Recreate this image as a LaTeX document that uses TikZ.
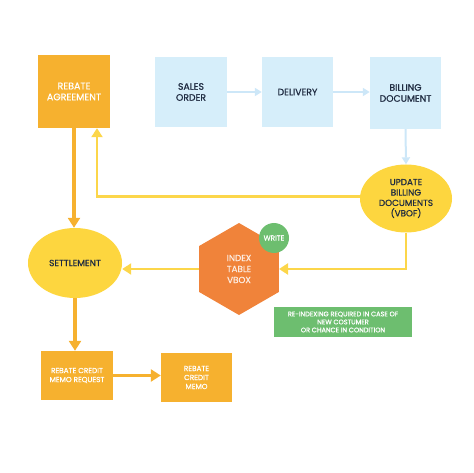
\documentclass[tikz,border=0pt]{standalone}
\usepackage{fontspec}
\setmainfont{Poppins}[FakeBold=0.7]
\usetikzlibrary{arrows.meta,shapes.geometric}

\definecolor{rebateorange}{HTML}{F6B12F}
\definecolor{salesblue}{HTML}{D6EEFA}
\definecolor{lineblue}{HTML}{CDE7F8}
\definecolor{updateyellow}{HTML}{FDD63F}
\definecolor{lineyellow}{HTML}{FCD64A}
\definecolor{hexorange}{HTML}{F0833A}
\definecolor{writegreen}{HTML}{6DBE6F}
\definecolor{navytext}{HTML}{1E2A40}

\begin{document}
\begin{tikzpicture}[x=1pt, y=-1pt,
  rebatebox/.style={rectangle, fill=rebateorange, text=white, align=center, inner sep=1pt},
  salesbox/.style={rectangle, fill=salesblue, text=navytext, align=center, inner sep=1pt,
    font=\fontsize{9.3}{11}\selectfont},
  yellowell/.style={ellipse, fill=updateyellow, text=navytext, align=center, inner sep=0pt},
  bluearrow/.style={draw=lineblue, line width=2pt, -{Triangle[width=8pt, length=7pt]}},
  yellowarrow/.style={draw=lineyellow, line width=2.8pt, -{Triangle[width=11pt, length=9pt]}},
  orangearrow/.style={draw=rebateorange, line width=3.2pt, -{Triangle[width=12pt, length=10pt]}}]
  \useasboundingbox (0,0) rectangle (474,473);
  % top row
  \node[rebatebox, minimum width=72, minimum height=73, font=\fontsize{9.5}{11}\selectfont]
    (agreement) at (74,91.5) {REBATE\\AGREEMENT};
  \node[salesbox, minimum width=72, minimum height=70] (sales) at (191,92) {SALES\\ORDER};
  \node[salesbox, minimum width=71, minimum height=70] (delivery) at (297.5,92) {DELIVERY};
  \node[salesbox, minimum width=71, minimum height=72] (billing) at (405.5,93) {BILLING\\DOCUMENT};
  % ellipses
  \node[yellowell, minimum width=92, minimum height=68, font=\fontsize{8.8}{10.4}\selectfont]
    (update) at (406,198.5) {UPDATE\\BILLING\\DOCUMENTS\\(VBOF)};
  \node[yellowell, minimum width=94, minimum height=70, font=\fontsize{9}{10}\selectfont]
    (settlement) at (75,263) {SETTLEMENT};
  % index table
  \node[regular polygon, regular polygon sides=6, shape border rotate=30, fill=hexorange,
    minimum size=92, inner sep=0pt, text=white!85!hexorange, align=center,
    font=\fontsize{8.8}{11}\selectfont] (index) at (239,269) {INDEX\\TABLE\\VBOX};
  \node[circle, fill=writegreen, minimum size=30, inner sep=0pt, text=white,
    font=\fontsize{7.2}{8}\selectfont] (write) at (274,238) {WRITE};
  \node[rectangle, fill=writegreen, minimum width=138, minimum height=30, inner sep=1pt,
    text=white, align=center, font=\fontsize{6.6}{8}\selectfont]
    (note) at (343,322) {RE-INDEXING REQUIRED IN CASE OF\\NEW COSTUMER\\OR CHANCE IN CONDITION};
  % credit memos
  \node[rebatebox, minimum width=72, minimum height=49, font=\fontsize{7.3}{9}\selectfont]
    (request) at (77,375.5) {REBATE CREDIT\\MEMO REQUEST};
  \node[rebatebox, minimum width=71, minimum height=49, font=\fontsize{7.3}{9}\selectfont]
    (memo) at (196.5,377.5) {REBATE\\CREDIT\\MEMO};
  % connectors
  \draw[bluearrow] (sales.east) -- (delivery.west);
  \draw[bluearrow] (delivery.east) -- (delivery.east -| billing.west);
  \draw[bluearrow] (billing.south) -- (update.north);
  \draw[yellowarrow] ([yshift=2pt]update.west) -| ([xshift=23pt]agreement.south);
  \draw[orangearrow] (agreement.south) -- (agreement.south |- settlement.north);
  \draw[yellowarrow] (update.south) |- (index.east);
  \draw[yellowarrow] (index.west) -- (settlement.east |- index.west);
  \draw[orangearrow] (settlement.south) -- (settlement.south |- request.north);
  \draw[orangearrow] (request.east) -- (request.east -| memo.west);
\end{tikzpicture}
\end{document}
